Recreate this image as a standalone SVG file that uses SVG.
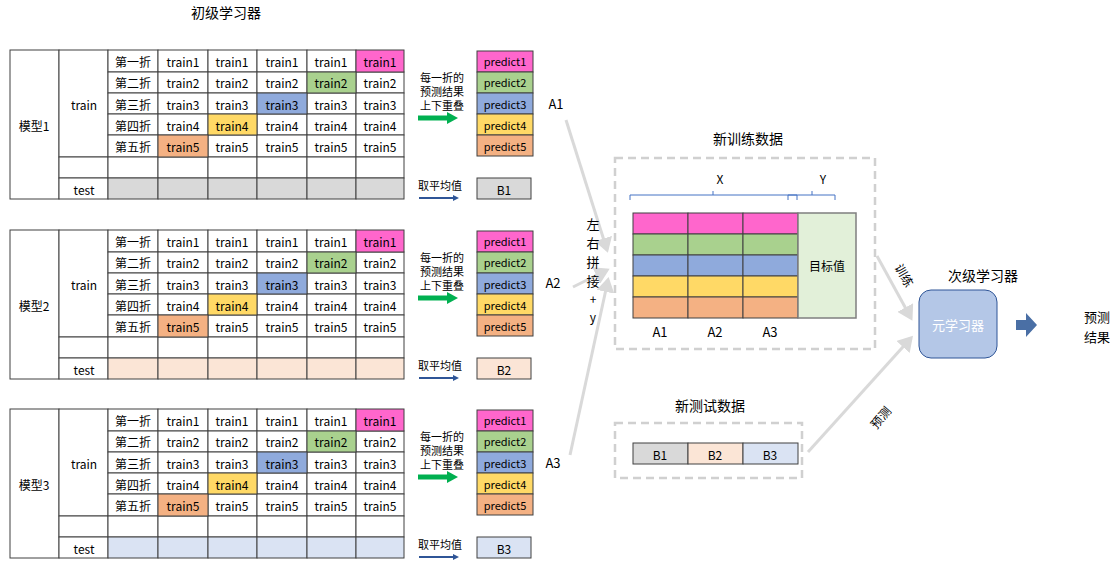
<svg xmlns="http://www.w3.org/2000/svg" width="1114" height="568" viewBox="0 0 1114 568">
<style>
text{font-family:"Noto Sans CJK SC","Liberation Sans",sans-serif;font-size:12px;fill:#000;text-anchor:middle;dominant-baseline:central}
.c{fill:#fff;stroke:#404040;stroke-width:1}
.pk{fill:#ff66cc;stroke:#404040}.gr{fill:#a9d18e;stroke:#404040}.bl{fill:#8faadc;stroke:#404040}.ye{fill:#ffd966;stroke:#404040}.or{fill:#f4b183;stroke:#404040}
.g1{fill:#d9d9d9;stroke:#404040}.g2{fill:#fbe5d6;stroke:#404040}.g3{fill:#dae3f3;stroke:#404040}
.s{font-size:11px}
.dash{fill:none;stroke:#d0d0d0;stroke-width:2.5;stroke-dasharray:8,5}
.ga{stroke:#d9d9d9;stroke-width:3;fill:none;marker-end:url(#gh)}
.br{fill:none;stroke:#4472c4;stroke-width:1}
</style>
<defs>
<marker id="gh" markerWidth="6" markerHeight="6" refX="4" refY="3" orient="auto" markerUnits="strokeWidth"><path d="M0,0L5,3L0,6z" fill="#d9d9d9"/></marker>
<g id="grid">
<rect class="c" x="10" y="50" width="49" height="149"/>
<rect class="c" x="59" y="50" width="49" height="107"/>
<rect class="c" x="59" y="157" width="49" height="21"/>
<rect class="c" x="59" y="178" width="49" height="21"/>
<g class="c">
<rect x="108" y="50" width="50" height="22"/><rect x="158" y="50" width="50" height="22"/><rect x="208" y="50" width="49" height="22"/><rect x="257" y="50" width="50" height="22"/><rect x="307" y="50" width="49" height="22"/>
<rect x="108" y="72" width="50" height="21"/><rect x="158" y="72" width="50" height="21"/><rect x="208" y="72" width="49" height="21"/><rect x="257" y="72" width="50" height="21"/><rect x="356" y="72" width="48" height="21"/>
<rect x="108" y="93" width="50" height="21"/><rect x="158" y="93" width="50" height="21"/><rect x="208" y="93" width="49" height="21"/><rect x="307" y="93" width="49" height="21"/><rect x="356" y="93" width="48" height="21"/>
<rect x="108" y="114" width="50" height="21"/><rect x="158" y="114" width="50" height="21"/><rect x="257" y="114" width="50" height="21"/><rect x="307" y="114" width="49" height="21"/><rect x="356" y="114" width="48" height="21"/>
<rect x="108" y="135" width="50" height="22"/><rect x="208" y="135" width="49" height="22"/><rect x="257" y="135" width="50" height="22"/><rect x="307" y="135" width="49" height="22"/><rect x="356" y="135" width="48" height="22"/>
<rect x="108" y="157" width="50" height="21"/><rect x="158" y="157" width="50" height="21"/><rect x="208" y="157" width="49" height="21"/><rect x="257" y="157" width="50" height="21"/><rect x="307" y="157" width="49" height="21"/><rect x="356" y="157" width="48" height="21"/>
</g>
<rect class="pk" x="356" y="50" width="48" height="22"/>
<rect class="gr" x="307" y="72" width="49" height="21"/>
<rect class="bl" x="257" y="93" width="50" height="21"/>
<rect class="ye" x="208" y="114" width="49" height="21"/>
<rect class="or" x="158" y="135" width="50" height="22"/>
<rect class="pk" x="477" y="51" width="56" height="21"/>
<rect class="gr" x="477" y="72" width="56" height="21"/>
<rect class="bl" x="477" y="93" width="56" height="21"/>
<rect class="ye" x="477" y="114" width="56" height="21"/>
<rect class="or" x="477" y="135" width="56" height="21"/>
<path d="M418,118h30" stroke="#00b050" stroke-width="5"/><path d="M447,112l11,6l-11,6z" fill="#00b050"/>
<path d="M419,198h35" stroke="#2f5597" stroke-width="2"/><path d="M453,195l6,3l-6,3z" fill="#2f5597"/>
</g>
</defs>
<text x="226" y="12" style="font-size:14px">初级学习器</text>

<g id="model1">
<use href="#grid"/>
<g class="g1"><rect x="108" y="178" width="50" height="21"/><rect x="158" y="178" width="50" height="21"/><rect x="208" y="178" width="49" height="21"/><rect x="257" y="178" width="50" height="21"/><rect x="307" y="178" width="49" height="21"/><rect x="356" y="178" width="48" height="21"/></g>
<rect class="g1" x="477" y="178" width="54" height="21"/>
<text x="34" y="125">模型1</text><text x="84" y="104">train</text><text x="84" y="189">test</text>
<text x="133" y="61">第一折</text><text x="133" y="82">第二折</text><text x="133" y="104">第三折</text><text x="133" y="125">第四折</text><text x="133" y="146">第五折</text>
<text x="183" y="61">train1</text><text x="232" y="61">train1</text><text x="282" y="61">train1</text><text x="331" y="61">train1</text><text x="380" y="61">train1</text>
<text x="183" y="82">train2</text><text x="232" y="82">train2</text><text x="282" y="82">train2</text><text x="331" y="82">train2</text><text x="380" y="82">train2</text>
<text x="183" y="104">train3</text><text x="232" y="104">train3</text><text x="282" y="104">train3</text><text x="331" y="104">train3</text><text x="380" y="104">train3</text>
<text x="183" y="125">train4</text><text x="232" y="125">train4</text><text x="282" y="125">train4</text><text x="331" y="125">train4</text><text x="380" y="125">train4</text>
<text x="183" y="146">train5</text><text x="232" y="146">train5</text><text x="282" y="146">train5</text><text x="331" y="146">train5</text><text x="380" y="146">train5</text>
<text class="s" x="505" y="61">predict1</text><text class="s" x="505" y="82">predict2</text><text class="s" x="505" y="104">predict3</text><text class="s" x="505" y="125">predict4</text><text class="s" x="505" y="146">predict5</text>
<text class="s" x="442" y="77">每一折的</text><text class="s" x="442" y="91">预测结果</text><text class="s" x="442" y="105">上下重叠</text>
<text class="s" x="440" y="185">取平均值</text><text x="504" y="189">B1</text>
<text x="556" y="103" style="font-size:13px">A1</text>
</g>

<g id="model2" transform="translate(0,180)">
<use href="#grid"/>
<g class="g2"><rect x="108" y="178" width="50" height="21"/><rect x="158" y="178" width="50" height="21"/><rect x="208" y="178" width="49" height="21"/><rect x="257" y="178" width="50" height="21"/><rect x="307" y="178" width="49" height="21"/><rect x="356" y="178" width="48" height="21"/></g>
<rect class="g2" x="477" y="178" width="54" height="21"/>
<text x="34" y="125">模型2</text><text x="84" y="104">train</text><text x="84" y="189">test</text>
<text x="133" y="61">第一折</text><text x="133" y="82">第二折</text><text x="133" y="104">第三折</text><text x="133" y="125">第四折</text><text x="133" y="146">第五折</text>
<text x="183" y="61">train1</text><text x="232" y="61">train1</text><text x="282" y="61">train1</text><text x="331" y="61">train1</text><text x="380" y="61">train1</text>
<text x="183" y="82">train2</text><text x="232" y="82">train2</text><text x="282" y="82">train2</text><text x="331" y="82">train2</text><text x="380" y="82">train2</text>
<text x="183" y="104">train3</text><text x="232" y="104">train3</text><text x="282" y="104">train3</text><text x="331" y="104">train3</text><text x="380" y="104">train3</text>
<text x="183" y="125">train4</text><text x="232" y="125">train4</text><text x="282" y="125">train4</text><text x="331" y="125">train4</text><text x="380" y="125">train4</text>
<text x="183" y="146">train5</text><text x="232" y="146">train5</text><text x="282" y="146">train5</text><text x="331" y="146">train5</text><text x="380" y="146">train5</text>
<text class="s" x="505" y="61">predict1</text><text class="s" x="505" y="82">predict2</text><text class="s" x="505" y="104">predict3</text><text class="s" x="505" y="125">predict4</text><text class="s" x="505" y="146">predict5</text>
<text class="s" x="442" y="77">每一折的</text><text class="s" x="442" y="91">预测结果</text><text class="s" x="442" y="105">上下重叠</text>
<text class="s" x="440" y="185">取平均值</text><text x="504" y="189">B2</text>
<text x="553" y="102" style="font-size:13px">A2</text>
</g>

<g id="model3" transform="translate(0,359)">
<use href="#grid"/>
<g class="g3"><rect x="108" y="178" width="50" height="21"/><rect x="158" y="178" width="50" height="21"/><rect x="208" y="178" width="49" height="21"/><rect x="257" y="178" width="50" height="21"/><rect x="307" y="178" width="49" height="21"/><rect x="356" y="178" width="48" height="21"/></g>
<rect class="g3" x="477" y="178" width="54" height="21"/>
<text x="34" y="125">模型3</text><text x="84" y="104">train</text><text x="84" y="189">test</text>
<text x="133" y="61">第一折</text><text x="133" y="82">第二折</text><text x="133" y="104">第三折</text><text x="133" y="125">第四折</text><text x="133" y="146">第五折</text>
<text x="183" y="61">train1</text><text x="232" y="61">train1</text><text x="282" y="61">train1</text><text x="331" y="61">train1</text><text x="380" y="61">train1</text>
<text x="183" y="82">train2</text><text x="232" y="82">train2</text><text x="282" y="82">train2</text><text x="331" y="82">train2</text><text x="380" y="82">train2</text>
<text x="183" y="104">train3</text><text x="232" y="104">train3</text><text x="282" y="104">train3</text><text x="331" y="104">train3</text><text x="380" y="104">train3</text>
<text x="183" y="125">train4</text><text x="232" y="125">train4</text><text x="282" y="125">train4</text><text x="331" y="125">train4</text><text x="380" y="125">train4</text>
<text x="183" y="146">train5</text><text x="232" y="146">train5</text><text x="282" y="146">train5</text><text x="331" y="146">train5</text><text x="380" y="146">train5</text>
<text class="s" x="505" y="61">predict1</text><text class="s" x="505" y="82">predict2</text><text class="s" x="505" y="104">predict3</text><text class="s" x="505" y="125">predict4</text><text class="s" x="505" y="146">predict5</text>
<text class="s" x="442" y="77">每一折的</text><text class="s" x="442" y="91">预测结果</text><text class="s" x="442" y="105">上下重叠</text>
<text class="s" x="440" y="185">取平均值</text><text x="504" y="189">B3</text>
<text x="553" y="103" style="font-size:13px">A3</text>
</g>

<g id="connectors">
<path class="ga" d="M566,120L607,250"/>
<path class="ga" d="M573,287L607,270"/>
<path class="ga" d="M570,455L608,280"/>
<path class="ga" d="M877,256L911,318"/>
<path class="ga" d="M808,452L911,338"/>
<path d="M1016,320h10v-7l11,12l-11,12v-7h-10z" fill="#4a6fa5"/>
</g>
<g id="join-label"><text x="593" y="223" style="font-size:13px">左</text><text x="593" y="242" style="font-size:13px">右</text><text x="593" y="261" style="font-size:13px">拼</text><text x="593" y="280" style="font-size:13px">接</text><text x="593" y="298">+</text><text x="593" y="316">y</text></g>

<g id="new-train">
<text x="748" y="138" style="font-size:14px">新训练数据</text>
<rect class="dash" x="615" y="158" width="260" height="191"/>
<text x="720" y="178">X</text><text x="823" y="178">Y</text>
<path class="br" d="M630,200v-5h167v5M713,195v-4"/>
<path class="br" d="M788,200v-5h47v5M812,195v-4"/>
<g stroke="#222"><rect class="pk" x="633" y="213" width="55" height="21"/><rect class="pk" x="688" y="213" width="55" height="21"/><rect class="pk" x="743" y="213" width="55" height="21"/>
<rect class="gr" x="633" y="234" width="55" height="21"/><rect class="gr" x="688" y="234" width="55" height="21"/><rect class="gr" x="743" y="234" width="55" height="21"/>
<rect class="bl" x="633" y="255" width="55" height="21"/><rect class="bl" x="688" y="255" width="55" height="21"/><rect class="bl" x="743" y="255" width="55" height="21"/>
<rect class="ye" x="633" y="276" width="55" height="21"/><rect class="ye" x="688" y="276" width="55" height="21"/><rect class="ye" x="743" y="276" width="55" height="21"/>
<rect class="or" x="633" y="297" width="55" height="21"/><rect class="or" x="688" y="297" width="55" height="21"/><rect class="or" x="743" y="297" width="55" height="21"/></g>
<rect x="798" y="213" width="58" height="105" fill="#e2f0d9" stroke="#7f7f7f" stroke-width="1.5"/>
<text x="827" y="265">目标值</text>
<text x="660" y="331" style="font-size:13px">A1</text><text x="715" y="331" style="font-size:13px">A2</text><text x="770" y="331" style="font-size:13px">A3</text>
</g>

<g id="new-test">
<text x="710" y="405" style="font-size:14px">新测试数据</text>
<rect class="dash" x="615" y="423" width="187" height="55"/>
<rect class="g1" x="633" y="443" width="55" height="21"/><rect class="g2" x="688" y="443" width="55" height="21"/><rect class="g3" x="743" y="443" width="55" height="21"/>
<text x="660" y="454">B1</text><text x="715" y="454">B2</text><text x="770" y="454">B3</text>
</g>

<text x="905" y="275" transform="rotate(60 905 275)">训练</text>
<text x="880" y="417" transform="rotate(-50 880 417)">预测</text>

<g id="meta">
<text x="983" y="275" style="font-size:14px">次级学习器</text>
<rect x="919" y="290" width="78" height="68" rx="12" fill="#b4c7e7" stroke="#2f5597"/>
<text x="958" y="324" style="font-size:13px;fill:#fff">元学习器</text>
</g>
<text x="1097" y="316" style="font-size:13px">预测</text>
<text x="1097" y="336" style="font-size:13px">结果</text>
</svg>
